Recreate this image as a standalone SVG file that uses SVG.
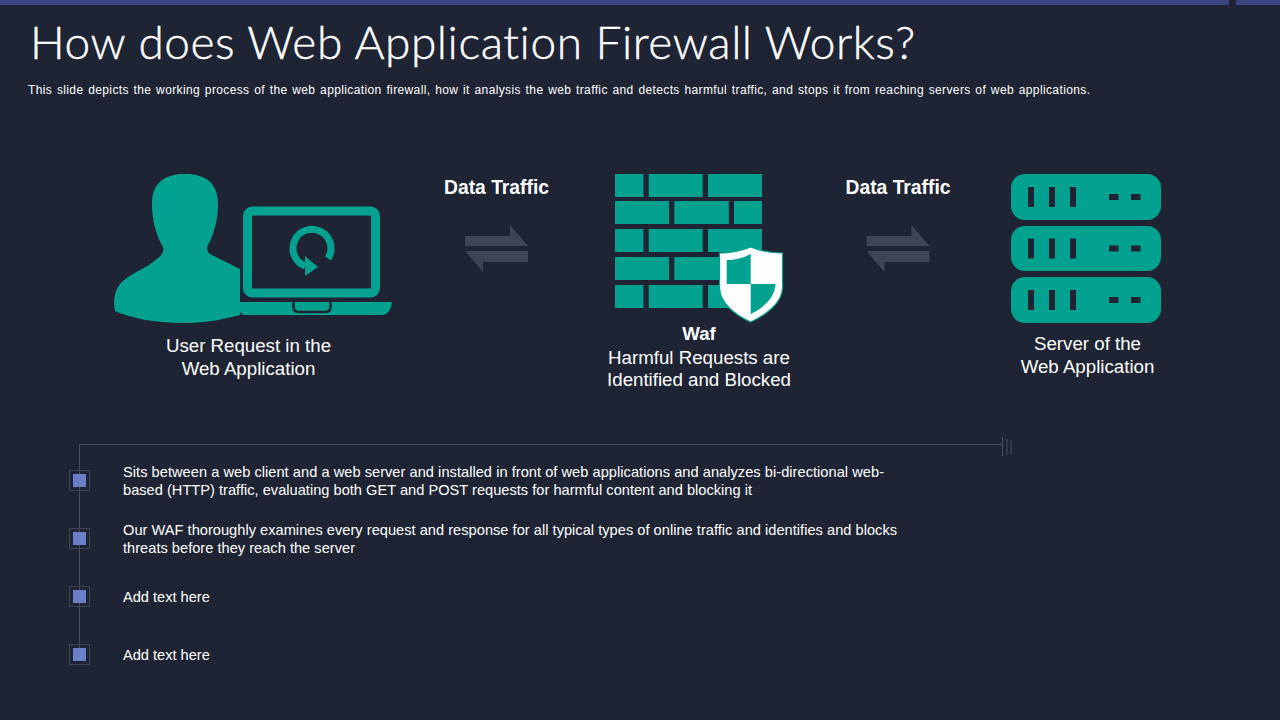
<svg xmlns="http://www.w3.org/2000/svg" width="1280" height="720" viewBox="0 0 1280 720">
<style>
text{font-family:"Liberation Sans",Arial,sans-serif;fill:#fff}
.t{fill:#03a290}
.d{fill:#1e2434}
.lbl{font-size:18.700px;text-anchor:middle}
.dt{font-size:19.300px;text-anchor:middle;font-weight:bold}
.b{font-size:14.600px}
.arrow{fill:#3e4454}
.ln{stroke:#484e5e;stroke-width:1;fill:none}
.bo{fill:none;stroke:#3a4256;stroke-width:1}
.bi{fill:#6b7ec8}
</style>
<defs>
<g id="arr"><polygon points="465,236 510,236 510,225 528,246 465,246"/><polygon points="528,251 528,262 483,262 483,272 465,251"/></g>
<g id="srow"><rect x="1028" width="6" height="20" class="d"/><rect x="1049" width="6" height="20" class="d"/><rect x="1070" width="6" height="20" class="d"/><rect x="1109" y="7" width="9.500" height="6" class="d"/><rect x="1131" y="7" width="9.500" height="6" class="d"/></g>
</defs>
<rect width="1280" height="720" fill="#1e2434"/>
<g id="topbar"><rect width="1229" height="5" fill="#39437f"/><rect x="1236" width="44" height="5" fill="#39437f"/></g>
<text x="30" y="59" font-size="46" textLength="885" lengthAdjust="spacing" style="font-family:Lato,'Liberation Sans',sans-serif;font-weight:300;font-variant-ligatures:none" stroke="#fff" stroke-width="0.400">How does Web Application Firewall Works?</text>
<text x="28" y="94" font-size="12" textLength="1062" lengthAdjust="spacing" word-spacing="1">This slide depicts the working process of the web application firewall, how it analysis the web traffic and detects harmful traffic, and stops it from reaching servers of web applications.</text>

<g id="connectors">
<use href="#arr" class="arrow"/>
<use href="#arr" x="401.500" class="arrow"/>
<path class="ln" d="M79.500 655V444.500H1003"/>
<path class="ln" d="M1002.500 437V456M1007 439V455M1011 440V454"/>
</g>

<g id="user">
<path class="t" d="M185 174C207 174 218 184 218 204C218 220 214 235 207 247C207 252 209 254 214 256L240 269V315C220 320 205 323 183 323C155 323 130 318 115 311C113 302 114 292 120 284C128 274 148 268 158 258C163 254 164 251 163 247C156 235 152 220 152 204C152 184 163 174 185 174Z"/>
<rect x="247.500" y="211" width="128" height="82" rx="5" fill="#1e2434" stroke="#03a290" stroke-width="9"/>
<path class="t" d="M240 302H392C391 309 388 315 382 315H243L240 312Z"/>
<path d="M293.500 302V307Q293.500 312 298.500 312H325.500Q330.500 312 330.500 307V302" fill="#03a290" stroke="#1e2434" stroke-width="2.500"/>
<path d="M328 258.500A19 19 0 1 0 305 266" fill="none" stroke="#03a290" stroke-width="7"/>
<polygon class="t" points="305,256 318,267 305,276"/>
<text class="lbl" x="248.500" y="351.500">User Request in the</text>
<text class="lbl" x="248.500" y="374.500">Web Application</text>
</g>

<g id="waf">
<g class="t">
<rect x="615" y="174" width="28.500" height="23"/><rect x="648.700" y="174" width="54" height="23"/><rect x="708" y="174" width="54" height="23"/>
<rect x="615" y="201" width="54" height="23"/><rect x="674.300" y="201" width="54.500" height="23"/><rect x="734" y="201" width="28" height="23"/>
<rect x="615" y="229" width="28.500" height="23"/><rect x="648.700" y="229" width="54" height="23"/><rect x="708" y="229" width="54" height="23"/>
<rect x="615" y="257" width="54" height="23"/><rect x="674.300" y="257" width="54.500" height="23"/>
<rect x="615" y="285" width="28.500" height="23"/><rect x="648.700" y="285" width="54" height="23"/><rect x="708" y="285" width="54" height="23"/>
</g>
<path d="M750.700 247C760 251 771 253 782.500 253V288C782 303 766 315 750.700 322C735 315 720 303 719.500 288V253C731 253 741 251 750.700 247Z" fill="#fff" stroke="#03a290" stroke-width="1.200"/>
<path class="t" d="M750.700 254V284H726.700V260C735 260 743 258 750.700 254Z"/>
<path class="t" d="M750.700 284H775.500C775 298 763 308 750.700 314Z"/>
<text class="lbl" x="699" y="340" font-weight="bold">Waf</text>
<text class="lbl" x="699" y="363.500">Harmful Requests are</text>
<text class="lbl" x="699" y="386">Identified and Blocked</text>
</g>

<g id="server">
<rect class="t" x="1011" y="174" width="150" height="46" rx="14"/>
<rect class="t" x="1011" y="226" width="150" height="45" rx="14"/>
<rect class="t" x="1011" y="277" width="150" height="46" rx="14"/>
<use href="#srow" y="187"/><use href="#srow" y="238.500"/><use href="#srow" y="290"/>
<text class="lbl" x="1087.500" y="349.500">Server of the</text>
<text class="lbl" x="1087.500" y="372.500">Web Application</text>
</g>

<g id="traffic-left"><text class="dt" x="496.500" y="194">Data Traffic</text></g>
<g id="traffic-right"><text class="dt" x="898" y="194">Data Traffic</text></g>

<g id="item1"><rect class="bo" x="69.500" y="470.500" width="20" height="20"/><rect class="bi" x="73" y="474" width="13" height="13"/>
<text class="b" x="123" y="477" textLength="761" lengthAdjust="spacing">Sits between a web client and a web server and installed in front of web applications and analyzes bi-directional web-</text>
<text class="b" x="123" y="495" textLength="629" lengthAdjust="spacing">based (HTTP) traffic, evaluating both GET and POST requests for harmful content and blocking it</text></g>
<g id="item2"><rect class="bo" x="69.500" y="528.500" width="20" height="20"/><rect class="bi" x="73" y="532" width="13" height="13"/>
<text class="b" x="123" y="535" textLength="774" lengthAdjust="spacing">Our WAF thoroughly examines every request and response for all typical types of online traffic and identifies and blocks</text>
<text class="b" x="123" y="553" textLength="232" lengthAdjust="spacing">threats before they reach the server</text></g>
<g id="item3"><rect class="bo" x="69.500" y="586.500" width="20" height="20"/><rect class="bi" x="73" y="590" width="13" height="13"/>
<text class="b" x="123" y="602">Add text here</text></g>
<g id="item4"><rect class="bo" x="69.500" y="644.500" width="20" height="20"/><rect class="bi" x="73" y="648" width="13" height="13"/>
<text class="b" x="123" y="660">Add text here</text></g>
</svg>
